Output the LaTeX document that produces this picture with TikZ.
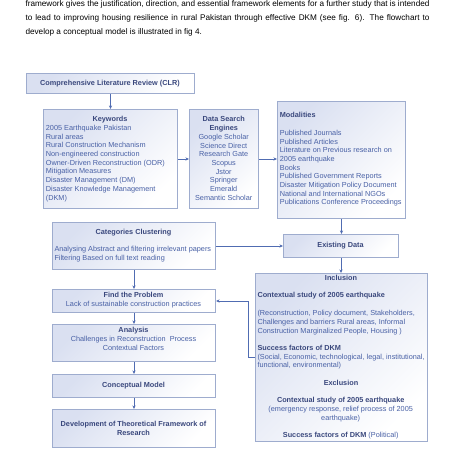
\documentclass[tikz,border=0pt]{standalone}
\usepackage{fontspec}
\setmainfont{Liberation Sans}
\usetikzlibrary{arrows.meta}
\definecolor{bordc}{RGB}{158,172,206}
\definecolor{txtc}{RGB}{72,96,165}
\definecolor{ttlc}{RGB}{58,72,125}
\definecolor{arrc}{RGB}{80,108,178}
\definecolor{shadec}{RGB}{218,224,241}
\tikzset{
  box/.style={draw=bordc, line width=1pt, top color=shadec, bottom color=white, shading angle=45, inner sep=0pt, anchor=north west},
  bt/.style={font=\fontsize{7.3}{8.67}\selectfont, text=txtc, inner sep=0pt},
  tt/.style={font=\fontsize{7.3}{8.67}\selectfont\bfseries, text=ttlc, inner sep=0pt},
  arr/.style={draw=arrc, line width=0.75pt, -{Stealth[length=3.6pt,width=3.2pt]}},
  para/.style={font=\fontsize{8.2}{13}\selectfont, text=black, inner sep=0pt, anchor=mid west},
}
\newcommand\bx[5]{\node[box, minimum width={(#4-#2)*1pt}, minimum height={(#5-#3)*1pt}] (#1) at (#2,#3) {};}
\begin{document}
\begin{tikzpicture}[x=1pt,y=-1pt]
\useasboundingbox (0,0) rectangle (474,463);
% paragraph
\node[para] (p1) at (25.3,4.2) {\makebox[404pt][s]{framework gives the justification, direction, and essential framework elements for a further study that is intended}};
\node[para] (p2) at (25.3,17.6) {\makebox[404pt][s]{to lead to improving housing resilience in rural Pakistan through effective DKM (see fig. 6). The flowchart to}};
\node[para] (p3) at (25.3,32) {develop a conceptual model is illustrated in fig 4.};
% boxes
\bx{clr}{26}{73}{194}{93}
\bx{kw}{43}{109}{177}{208}
\bx{ds}{189}{109}{258}{208}
\bx{mod}{277}{101}{405}{218}
\bx{cat}{52}{222}{215}{269}
\bx{ex}{283}{234}{398}{257}
\bx{inc}{255}{273}{427}{441}
\bx{find}{52}{289}{215}{312}
\bx{ana}{52}{324}{215}{361}
\bx{cm}{52}{374}{215}{397}
\bx{dev}{52}{409}{215}{447}
% texts
\node[tt, anchor=mid] (clrT) at (110,82.7) {Comprehensive Literature Review (CLR)};
\node[tt, anchor=mid] (kwT) at (110,119.3) {Keywords};
\foreach \t [count=\i] in {2005 Earthquake Pakistan, Rural areas, Rural Construction Mechanism, Non-engineered construction, Owner-Driven Reconstruction (ODR), Mitigation Measures, Disaster Management (DM), Disaster Knowledge Management, (DKM)}
  \node[bt, anchor=mid west] (kw\i) at (45.7,{128+(\i-1)*8.67}) {\t};
\node[tt, anchor=mid] (dsT1) at (223.7,119.3) {Data Search};
\node[tt, anchor=mid] (dsT2) at (223.7,128) {Engines};
\foreach \t [count=\i] in {Google Scholar, Science Direct, Research Gate, Scopus, Jstor, Springer, Emerald, Semantic Scholar}
  \node[bt, anchor=mid] (ds\i) at (223.7,{136.7+(\i-1)*8.67}) {\t};
\node[tt, anchor=mid west] (modT) at (279.7,115.3) {Modalities};
\foreach \t [count=\i] in {Published Journals, Published Articles, Literature on Previous research on, 2005 earthquake, Books, Published Government Reports, Disaster Mitigation Policy Document, National and International NGOs, Publications Conference Proceedings}
  \node[bt, anchor=mid west] (mod\i) at (279.7,{132.7+(\i-1)*8.7}) {\t};
\node[tt, anchor=mid] (catT) at (133.5,232) {Categories Clustering};
\node[bt, anchor=mid west] (cat1) at (54.3,249.3) {Analysing Abstract and filtering irrelevant papers};
\node[bt, anchor=mid west] (cat2) at (54.3,258) {Filtering Based on full text reading};
\node[tt, anchor=mid] (exT) at (340.5,245) {Existing Data};
\node[tt, anchor=mid] (findT) at (133.5,294.7) {Find the Problem};
\node[bt, anchor=mid] (find1) at (133.5,303.7) {Lack of sustainable construction practices};
\node[tt, anchor=mid] (anaT) at (133.5,330.3) {Analysis};
\node[bt, anchor=mid] (ana1) at (133.5,339) {Challenges in Reconstruction\ \ Process};
\node[bt, anchor=mid] (ana2) at (133.5,347.7) {Contextual Factors};
\node[tt, anchor=mid] (cmT) at (133.5,384.7) {Conceptual Model};
\node[tt, anchor=mid] (devT1) at (133.5,423.7) {Development of Theoretical Framework of};
\node[tt, anchor=mid] (devT2) at (133.5,432.7) {Research};
\node[tt, anchor=mid] (incT) at (341,278.3) {Inclusion};
\node[tt, anchor=mid west] (inc1) at (257.3,295.3) {Contextual study of 2005 earthquake};
\node[bt, anchor=mid west] (inc2) at (257.3,313.3) {(Reconstruction, Policy document, Stakeholders,};
\node[bt, anchor=mid west] (inc3) at (257.3,322) {Challenges and barriers Rural areas, Informal};
\node[bt, anchor=mid west] (inc4) at (257.3,330.7) {Construction Marginalized People, Housing )};
\node[tt, anchor=mid west] (inc5) at (257.3,347.7) {Success factors of DKM};
\node[bt, anchor=mid west] (inc6) at (257.3,356.7) {(Social, Economic, technological, legal, institutional,};
\node[bt, anchor=mid west] (inc7) at (257.3,365.3) {functional, environmental)};
\node[tt, anchor=mid] (excT) at (341,382.7) {Exclusion};
\node[tt, anchor=mid] (exc1) at (340.7,400) {Contextual study of 2005 earthquake};
\node[bt, anchor=mid] (exc2) at (340.7,409) {(emergency response, relief process of 2005};
\node[bt, anchor=mid] (exc3) at (340.7,417.7) {earthquake)};
\node[bt, anchor=mid] (exc4) at (340.7,435) {\textbf{\color{ttlc}Success factors of DKM} (Political)};
% connectors
\draw[arr] (clr.south) -- (kw.north);
\draw[arr] (kw.east) -- (ds.west);
\draw[arr] (ds.east) -- (ds.east -| mod.west);
\draw[arr] (mod.south) -- (mod.south |- ex.north);
\draw[arr] (ex.west -| cat.east) -- (ex.west);
\draw[arr] (ex.south) -- (ex.south |- inc.north);
\draw[arr] (cat.south) -- (find.north);
\draw[arr] (find.south) -- (ana.north);
\draw[arr] (ana.south) -- (cm.north);
\draw[arr] (cm.south) -- (dev.north);
\draw[arr] (inc.west) -- ++(-7,0) |- (find.east);
\end{tikzpicture}
\end{document}
